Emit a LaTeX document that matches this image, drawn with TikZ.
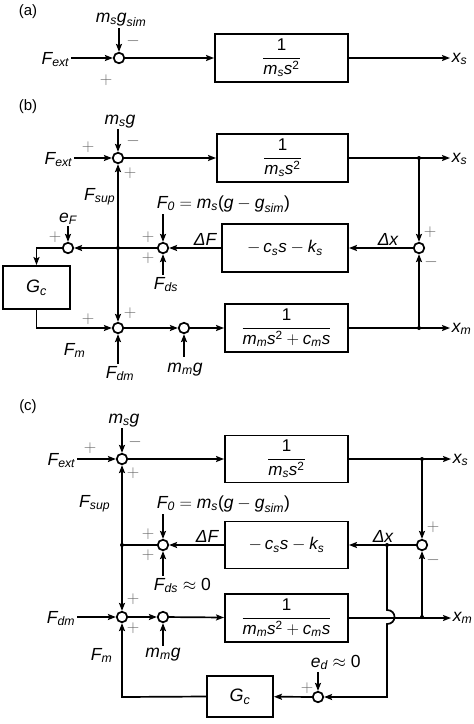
\documentclass[tikz,border=0pt]{standalone}
\usepackage{amsmath}
\usepackage{fontspec}
\setmainfont{Liberation Sans}
\usetikzlibrary{arrows.meta}
\newcommand\I[1]{\text{\itshape #1}}
\begin{document}
\begin{tikzpicture}[x=1pt,y=-1pt,
  line width=1.7pt,
  arr/.style={-{Stealth[length=8pt,width=6pt,inset=1.5pt]}},
  sumc/.style={circle,draw,line width=1.7pt,minimum size=10.5pt,inner sep=0pt},
  blk/.style={draw,line width=1.9pt,inner sep=0pt,font=\fontsize{17}{20}\selectfont},
  lbl/.style={inner sep=1pt,font=\fontsize{17.5}{20}\selectfont},
  sgn/.style={inner sep=0pt,font=\fontsize{17}{20}\selectfont,text=black!60},
  jdot/.style={circle,fill,inner sep=0pt,minimum size=4pt},
  pnl/.style={inner sep=0pt,font=\fontsize{15}{18}\selectfont}]
\useasboundingbox (0,0) rectangle (474,724);

%% ================= (a) =================
\node[pnl] (pa) at (28,12) {(a)};
\node[sumc] (sA) at (119,58) {};
\node[lbl,anchor=base east] (fA) at (71,64) {$\I{F}_{\I{ext}}$};
\node[lbl,anchor=base] (gA) at (121,22) {$\I{m}_{\I{s}}\I{g}_{\I{sim}}$};
\node[sgn] (mA) at (133,41) {$-$};
\node[sgn] (pA) at (106,80) {$+$};
\node[blk,minimum width=133pt,minimum height=48pt] (bA) at (281.5,58)
  {$\dfrac{\text{1}}{\I{m}_{\I{s}}\I{s}^{\text{2}}}$};
\node[lbl,anchor=base west] (xA) at (450,62) {$\I{x}_{\I{s}}$};
\draw[arr] (fA.east |- sA) -- (sA);
\draw[arr] (sA |- gA.south) -- (sA);
\draw[arr] (sA) -- (bA);
\draw[arr] (bA) -- (xA.west |- bA);

%% ================= (b) =================
\node[pnl] (pb) at (28,107) {(b)};
% row 1
\node[sumc] (sB1) at (118,158) {};
\node[lbl,anchor=base east] (fB) at (74,164) {$\I{F}_{\I{ext}}$};
\node[lbl,anchor=base] (gB) at (120,124) {$\I{m}_{\I{s}}\I{g}$};
\node[sgn] at (88,147) {$+$};
\node[sgn] at (133,141) {$-$};
\node[sgn] at (130,173) {$+$};
\node[blk,minimum width=131pt,minimum height=48pt] (B1) at (282.5,158)
  {$\dfrac{\text{1}}{\I{m}_{\I{s}}\I{s}^{\text{2}}}$};
\node[jdot] (dB1) at (419,158) {};
\node[lbl,anchor=base west] (xsB) at (450,162) {$\I{x}_{\I{s}}$};
\node[lbl,anchor=base east] (fsupB) at (117,200) {$\I{F}_{\I{sup}}$};
\node[lbl,anchor=base west] (f0B) at (155,208)
  {$\I{F}_{\I{0}}=\I{m}_{\I{s}}\text{(}\I{g}-\I{g}_{\I{sim}}\text{)}$};
% row 2
\node[sumc] (sE) at (68,248) {};
\node[lbl,anchor=base] (eFB) at (68,222) {$\I{e}_{\I{F}}$};
\node[sgn] at (55,237) {$+$};
\node[jdot] (dB2) at (118,248) {};
\node[sumc] (sF) at (163,248) {};
\node[sgn] at (148,237) {$+$};
\node[sgn] at (148,258) {$+$};
\node[lbl,anchor=base] (dFB) at (205,245) {$\I{ΔF}$};
\node[blk,minimum width=126pt,minimum height=48pt] (B2) at (285,248)
  {$-\,\I{c}_{\I{s}}\I{s}-\I{k}_{\I{s}}$};
\node[lbl,anchor=base] (dxB) at (388,245) {$\I{Δx}$};
\node[sumc] (sD) at (419,248) {};
\node[sgn] at (430,232) {$+$};
\node[sgn] at (431,262) {$-$};
\node[lbl,anchor=base west] (fdsB) at (152,289) {$\I{F}_{\I{ds}}$};
\node[blk,minimum width=67pt,minimum height=43pt,font=\fontsize{18}{21}\selectfont] (GcB) at (36.5,287.5) {$\I{G}_{\I{c}}$};
% row 3
\node[sumc] (sM) at (118,328) {};
\node[sgn] at (88,319) {$+$};
\node[sgn] at (130,313) {$+$};
\node[lbl,anchor=base west] (fmB) at (62,355) {$\I{F}_{\I{m}}$};
\node[lbl,anchor=base] (fdmB) at (120,378) {$\I{F}_{\I{dm}}$};
\node[sumc] (sG) at (184,328) {};
\node[lbl,anchor=base] (mmgB) at (185,372) {$\I{m}_{\I{m}}\I{g}$};
\node[blk,minimum width=123pt,minimum height=48pt] (B3) at (286.5,328)
  {$\dfrac{\text{1}}{\I{m}_{\I{m}}\I{s}^{\text{2}}+\I{c}_{\I{m}}\I{s}}$};
\node[jdot] (dB3) at (419,328) {};
\node[lbl,anchor=base west] (xmB) at (450,332) {$\I{x}_{\I{m}}$};
% connectors (b)
\draw[arr] (fB.east |- sB1) -- (sB1);
\draw[arr] (sB1 |- gB.south) -- (sB1);
\draw[arr] (sB1) -- (B1);
\draw[arr] (B1) -- (xsB.west |- B1);
\draw[arr] (dB1.center) -- (sD);
\draw[arr] (dB3.center) -- (sD);
\draw[arr] (sD) -- (B2);
\draw[arr] (B2) -- (sF);
\draw[arr] (sF |- f0B.south) -- (sF);
\draw[arr] (sF |- fdsB.north) -- (sF);
\draw (sF) -- (dB2.center);
\draw[arr] (dB2.center) -- (sE);
\draw[arr] (dB2.center) -- (sB1);
\draw[arr] (dB2.center) -- (sM);
\draw[arr] (sE |- eFB.south) -- (sE);
\draw[arr] (sE.west) -| (GcB.north);
\draw[arr] (GcB.south) |- (sM);
\draw[arr] (sM |- fdmB.north) -- (sM);
\draw[arr] (sM) -- (sG);
\draw[arr] ([yshift=4pt]sG |- mmgB.north) -- (sG);
\draw[arr] (sG) -- (B3);
\draw[arr] (B3) -- (xmB.west |- B3);

%% ================= (c) =================
\node[pnl] (pc) at (28,407) {(c)};
% row 1
\node[sumc] (sC1) at (122,459) {};
\node[lbl,anchor=base east] (fC) at (77,465) {$\I{F}_{\I{ext}}$};
\node[lbl,anchor=base] (gC) at (124,423) {$\I{m}_{\I{s}}\I{g}$};
\node[sgn] at (90,448) {$+$};
\node[sgn] at (135,442) {$-$};
\node[sgn] at (133,473) {$+$};
\node[blk,minimum width=123pt,minimum height=47pt] (C1) at (286.5,459)
  {$\dfrac{\text{1}}{\I{m}_{\I{s}}\I{s}^{\text{2}}}$};
\node[jdot] (dC1) at (422,459) {};
\node[lbl,anchor=base west] (xsC) at (451,463) {$\I{x}_{\I{s}}$};
\node[lbl,anchor=base east] (fsupC) at (112,507) {$\I{F}_{\I{sup}}$};
\node[lbl,anchor=base west] (f0C) at (155,508)
  {$\I{F}_{\I{0}}=\I{m}_{\I{s}}\text{(}\I{g}-\I{g}_{\I{sim}}\text{)}$};
% row 2
\node[jdot] (dC2) at (122,545) {};
\node[sumc] (sCF) at (163,545) {};
\node[sgn] at (148,534) {$+$};
\node[sgn] at (148,555) {$+$};
\node[lbl,anchor=base] (dFC) at (207,542) {$\I{ΔF}$};
\node[blk,minimum width=123pt,minimum height=47pt] (C2) at (286.5,545)
  {$-\,\I{c}_{\I{s}}\I{s}-\I{k}_{\I{s}}$};
\node[lbl,anchor=base] (dxC) at (383,542) {$\I{Δx}$};
\node[jdot] (dDx) at (387,545) {};
\node[sumc] (sCD) at (422,545) {};
\node[sgn] at (433,527) {$+$};
\node[sgn] at (433,560) {$-$};
\node[lbl,anchor=base west] (fdsC) at (152,590) {$\I{F}_{\I{ds}}\approx\text{0}$};
% row 3
\node[sumc] (sCM) at (122,617) {};
\node[lbl,anchor=base east] (fdmC) at (77,623) {$\I{F}_{\I{dm}}$};
\node[sgn] at (133,599) {$+$};
\node[sgn] at (133,628) {$+$};
\node[sumc] (sCG) at (163,617) {};
\node[lbl,anchor=base] (mmgC) at (163,657) {$\I{m}_{\I{m}}\I{g}$};
\node[lbl,anchor=base west] (fmC) at (89,660) {$\I{F}_{\I{m}}$};
\node[blk,minimum width=123pt,minimum height=48pt] (C3) at (286.5,618)
  {$\dfrac{\text{1}}{\I{m}_{\I{m}}\I{s}^{\text{2}}+\I{c}_{\I{m}}\I{s}}$};
\node[jdot] (dC3) at (422,617) {};
\node[lbl,anchor=base west] (xmC) at (451,621) {$\I{x}_{\I{m}}$};
% row 4
\node[sumc] (sCE) at (318,697) {};
\node[lbl,anchor=base west] (edC) at (309,667) {$\I{e}_{\I{d}}\approx\text{0}$};
\node[sgn] at (307,688) {$+$};
\node[blk,minimum width=66pt,minimum height=41pt,font=\fontsize{18}{21}\selectfont] (GcC) at (240,696.5) {$\I{G}_{\I{c}}$};
\coordinate (hopT) at (387,610);
\coordinate (hopB) at (387,624);
\coordinate (cornerR) at (387,697);
\coordinate (cornerL) at (122,697);
% connectors (c)
\draw[arr] (fC.east |- sC1) -- (sC1);
\draw[arr] (sC1 |- gC.south) -- (sC1);
\draw[arr] (sC1) -- (C1);
\draw[arr] (C1) -- (xsC.west |- C1);
\draw[arr] (dC1.center) -- (sCD);
\draw[arr] (dC3.center) -- (sCD);
\draw[arr] (sCD) -- (C2);
\draw[arr] (C2) -- (sCF);
\draw[arr] (sCF |- f0C.south) -- (sCF);
\draw[arr] (sCF |- fdsC.north) -- (sCF);
\draw (sCF) -- (dC2.center);
\draw[arr] (dC2.center) -- (sC1);
\draw[arr] (dC2.center) -- (sCM);
\draw[arr] (fdmC.east |- sCM) -- (sCM);
\draw[arr] (sCM) -- (sCG);
\draw[arr] (sCG |- mmgC.north) -- (sCG);
\draw[arr] (sCG) -- (C3);
\draw[arr] (C3) -- (xmC.west |- C3);
\draw[arr] (dDx.center) -- (hopT) .. controls (397,610) and (397,624) .. (hopB)
  -- (cornerR) -- (sCE);
\draw[arr] (sCE |- edC.south) -- (sCE);
\draw[arr] (sCE) -- (GcC);
\draw[arr] (GcC.west) -- (cornerL) -- (sCM);
\end{tikzpicture}
\end{document}
